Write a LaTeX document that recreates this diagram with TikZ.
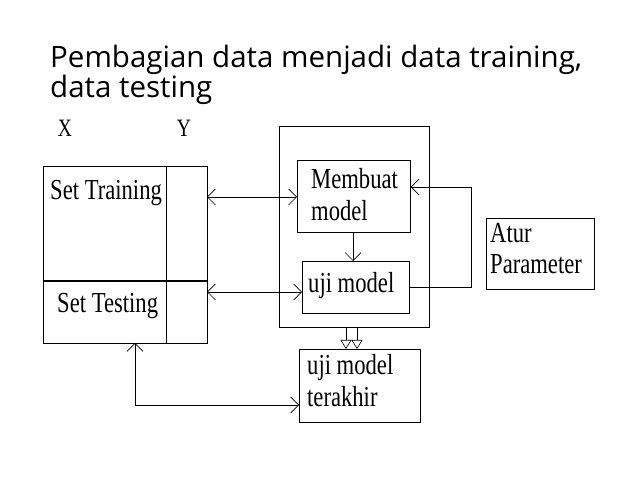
\documentclass[tikz,border=0pt]{standalone}
\usepackage{fontspec}
\setmainfont{Liberation Serif}[FakeStretch=0.78]
\newfontfamily\titlefont{Open Sans}
\usetikzlibrary{arrows.meta}
\begin{document}
\begin{tikzpicture}[x=1pt,y=-1pt,
  box/.style={draw,line width=0.7pt},
  lbl/.style={font=\fontsize{29}{32}\selectfont,align=left,inner sep=0pt,anchor=base west},
  con/.style={line width=0.6pt},
  tip/.style={-{Straight Barb[length=8pt,width=16pt,line width=0.6pt]}},
  tips/.style={{Straight Barb[length=8pt,width=16pt,line width=0.6pt]}-{Straight Barb[length=8pt,width=16pt,line width=0.6pt]}},
  ttip/.style={-{Triangle[open,length=9pt,width=11pt,line width=0.6pt]}}]
\useasboundingbox (0,0) rectangle (638,478);
\node[font=\titlefont\fontsize{29.5}{29}\selectfont,align=left,anchor=base west,inner sep=0pt] (title) at (50,98) {Pembagian data menjadi data training,\\data testing};
\node[font=\fontsize{25}{25}\selectfont,anchor=base] (X) at (65,137) {X};
\node[font=\fontsize{25}{25}\selectfont,anchor=base] (Y) at (184,137) {Y};
% left data box
\draw[box] (43,166) rectangle (207,343);
\draw[box] (166,166) -- (166,343);
\draw[line width=1.4pt] (43,281) -- (207,281);
\coordinate (trR) at (207,197);
\coordinate (teR) at (207,292);
\coordinate (teB) at (135,343);
\node[lbl] (settr) at (50,200) {Set Training};
\node[lbl] (sette) at (57,313) {Set Testing};
% outer box
\draw[box] (279,126) rectangle (429,327);
\coordinate (outB1) at (346,327);
\coordinate (outB2) at (357,327);
\node[box,minimum width=113pt,minimum height=72pt,anchor=north west] (mm) at (297,160) {};
\node[lbl] at (311,221) {Membuat\\model};
\node[box,minimum width=107pt,minimum height=52pt,anchor=north west] (uji) at (302,261) {};
\node[lbl] at (308,293) {uji model};
\node[box,minimum width=121pt,minimum height=73pt,anchor=north west] (akh) at (299,349) {};
\node[lbl] at (307,407) {uji model\\terakhir};
\node[box,minimum width=108pt,minimum height=71pt,anchor=north west] (atur) at (486,218) {};
\node[lbl,font=\fontsize{29}{31}\selectfont] at (490,274) {Atur\\Parameter};
% connectors
\draw[con,tips] (trR) -- (mm.west |- trR);
\draw[con,tips] (teR) -- (uji.west |- teR);
\draw[con,tip] (mm.south -| 353,0) -- (uji.north -| 353,0);
\coordinate (c1) at (471,287);
\coordinate (c2) at (471,187);
\draw[con,tip] (uji.east |- c1) -- (c1) -- (c2) -- (mm.east |- c2);
\draw[con,ttip] (outB1) -- (outB1 |- akh.north);
\draw[con,ttip] (outB2) -- (outB2 |- akh.north);
\coordinate (c3) at (135,405);
\draw[con,tips] (teB) -- (c3) -- (akh.west |- c3);
\end{tikzpicture}
\end{document}
